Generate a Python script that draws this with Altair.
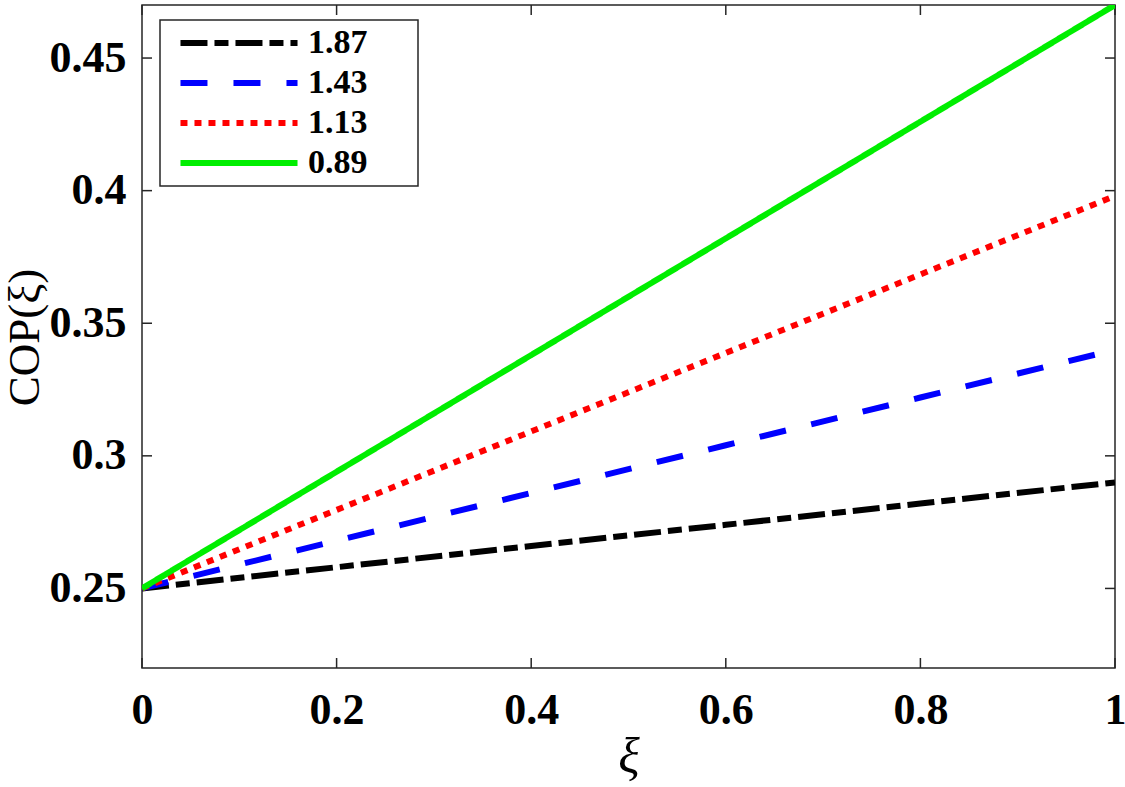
import altair as alt
import pandas as pd

# ---- data ----
xi = [0.0, 0.2, 0.4, 0.6, 0.8, 1.0]
cop_187 = [0.250, 0.258, 0.266, 0.274, 0.282, 0.290]
cop_143 = [0.250, 0.268, 0.286, 0.304, 0.322, 0.340]
cop_113 = [0.250, 0.2796, 0.3092, 0.3388, 0.3684, 0.398]
cop_089 = [0.250, 0.294, 0.338, 0.382, 0.426, 0.470]
series_names = ["1.87", "1.43", "1.13", "0.89"]
series_colors = ["#000000", "#0000ff", "#ff0000", "#00ee00"]
series_dash = [[27, 7, 14, 7], [27, 26], [7, 7], [1, 0]]

x_ticks = [0, 0.2, 0.4, 0.6, 0.8, 1]
y_ticks = [0.25, 0.3, 0.35, 0.4, 0.45]

rows = []
for name, vals in zip(series_names, [cop_187, cop_143, cop_113, cop_089]):
    for x, y in zip(xi, vals):
        rows.append({"xi": x, "cop": y, "series": name})
df = pd.DataFrame(rows)

W, H = 973, 663
FONT = "Liberation Serif"
TICK = 10

xs = alt.Scale(domain=[0, 1], nice=False)
ys = alt.Scale(domain=[0.22, 0.47], nice=False)

legend = alt.Legend(
    title=None, orient="none", legendX=80, legendY=21,
    symbolType="M-5,0H5", symbolSize=548, symbolStrokeWidth=6,
    labelFont=FONT, labelFontWeight="bold", labelFontSize=34, labelColor="#000000",
    labelOffset=52, padding=0, rowPadding=6,
)

lines = alt.Chart(df).mark_line(strokeWidth=6, strokeCap="butt", clip=True).encode(
    x=alt.X("xi:Q", scale=xs, axis=alt.Axis(
        values=x_ticks, format="~g", title="ξ", grid=False, ticks=False, tickSize=0,
        domain=False, labelFlush=False, labelFont=FONT, labelFontWeight="bold", labelFontSize=44,
        labelColor="#000000", labelPadding=20, titleFont=FONT, titleFontStyle="italic",
        titleFontWeight="normal", titleFontSize=50, titleColor="#000000", titlePadding=0)),
    y=alt.Y("cop:Q", scale=ys, axis=alt.Axis(
        values=y_ticks, format="~g", title="COP(ξ)", grid=False, ticks=False, tickSize=0,
        domain=False, labelFlush=False, labelFont=FONT, labelFontWeight="bold", labelFontSize=44,
        labelColor="#000000", labelPadding=16, titleFont=FONT, titleFontWeight="normal",
        titleFontSize=45, titleColor="#000000", titleX=-104, titleY=332,
        titleBaseline="alphabetic", titleAlign="center", titleAngle=270)),
    color=alt.Color("series:N", sort=series_names,
                    scale=alt.Scale(domain=series_names, range=series_colors), legend=legend),
    strokeDash=alt.StrokeDash("series:N", sort=series_names,
                              scale=alt.Scale(domain=series_names, range=series_dash), legend=legend),
    order=alt.Order("xi:Q"),
)

xt = pd.DataFrame({"t": x_ticks})
yt = pd.DataFrame({"t": y_ticks})
tick_color = "#262626"
xb = alt.Chart(xt).mark_rule(color=tick_color, strokeWidth=1.5).encode(
    x=alt.X("t:Q", scale=xs), y=alt.value(H), y2=alt.value(H - TICK))
xtop = alt.Chart(xt).mark_rule(color=tick_color, strokeWidth=1.5).encode(
    x=alt.X("t:Q", scale=xs), y=alt.value(0), y2=alt.value(TICK))
yl = alt.Chart(yt).mark_rule(color=tick_color, strokeWidth=1.5).encode(
    y=alt.Y("t:Q", scale=ys), x=alt.value(0), x2=alt.value(TICK))
yr = alt.Chart(yt).mark_rule(color=tick_color, strokeWidth=1.5).encode(
    y=alt.Y("t:Q", scale=ys), x=alt.value(W), x2=alt.value(W - TICK))

# legend frame (decoration)
frame = alt.Chart(pd.DataFrame({"k": [0]})).mark_rect(
    fill="#ffffff", stroke="#262626", strokeWidth=1.5).encode(
    x=alt.value(18), x2=alt.value(276), y=alt.value(15), y2=alt.value(181))

chart = alt.layer(xb, xtop, yl, yr, lines, frame).properties(
    width=W, height=H,
    autosize=alt.AutoSizeParams(type="none"),
    padding={"left": 142, "top": 5, "right": 10, "bottom": 119},
    background="#ffffff",
).configure_view(stroke="#262626", strokeWidth=1.5)

chart.save("out.html", embed_options={"renderer": "svg", "actions": False})
